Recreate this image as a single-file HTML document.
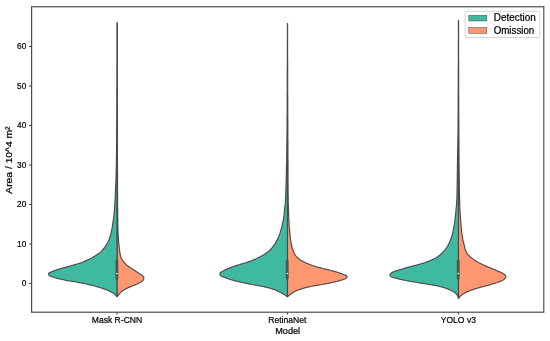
<!DOCTYPE html>
<html><head><meta charset="utf-8"><title>Violin plot</title>
<style>
html,body{margin:0;padding:0;background:#fff;}
svg{display:block;}
text{font-family:"Liberation Sans",Arial,sans-serif;fill:#000;stroke:#000;stroke-width:0.22px;}
.t{font-size:9.3px;}
.l{font-size:9px;}
.g{font-size:10.1px;}
</style></head>
<body>
<svg width="550" height="341" viewBox="0 0 550 341">
<rect width="550" height="341" fill="#fff"/>
<path d="M117.2 296.6L117.0 296.6L116.7 296.2L116.3 295.8L116.0 295.4L115.6 295.0L115.1 294.6L114.7 294.2L114.1 293.8L113.6 293.4L112.9 293.0L112.3 292.6L111.5 292.2L110.8 291.8L110.0 291.4L109.2 291.0L108.4 290.6L107.5 290.2L106.5 289.8L105.5 289.4L104.4 289.0L103.2 288.6L101.9 288.2L100.6 287.8L99.3 287.4L98.0 287.0L96.7 286.6L95.3 286.2L93.7 285.8L92.1 285.4L90.5 285.0L88.8 284.6L87.0 284.2L85.2 283.8L83.2 283.4L81.2 283.0L79.3 282.6L77.3 282.2L75.1 281.8L72.6 281.4L69.9 281.0L67.5 280.6L65.3 280.2L63.4 279.8L61.6 279.4L60.0 279.0L58.3 278.6L56.8 278.2L55.2 277.8L53.8 277.4L52.6 277.0L51.5 276.6L50.5 276.2L49.8 275.8L49.3 275.4L48.9 275.0L48.7 274.6L48.6 274.2L48.6 273.8L48.6 273.4L49.1 273.0L49.8 272.6L50.6 272.2L51.5 271.8L52.5 271.4L53.5 271.0L54.5 270.6L55.6 270.2L56.8 269.8L58.0 269.4L59.3 269.0L60.7 268.6L62.2 268.2L63.6 267.8L65.1 267.4L66.5 267.0L68.0 266.6L69.4 266.2L70.9 265.8L72.3 265.4L73.8 265.0L75.2 264.6L76.6 264.2L78.0 263.8L79.3 263.4L80.5 263.0L81.5 262.6L82.5 262.2L83.4 261.8L84.2 261.4L85.1 261.0L86.0 260.6L86.9 260.2L87.9 259.8L88.8 259.4L89.7 259.0L90.5 258.6L91.3 258.2L92.0 257.8L92.7 257.4L93.3 257.0L93.9 256.6L94.6 256.2L95.2 255.8L95.8 255.4L96.4 255.0L97.1 254.6L97.7 254.2L98.3 253.8L98.9 253.4L99.5 253.0L100.0 252.6L100.5 252.2L100.9 251.8L101.3 251.4L101.7 251.0L102.1 250.6L102.4 250.2L102.7 249.8L103.0 249.4L103.4 249.0L103.7 248.6L104.0 248.2L104.3 247.8L104.6 247.4L104.9 247.0L105.2 246.6L105.5 246.2L105.8 245.8L106.1 245.4L106.3 245.0L106.5 244.6L106.8 244.2L107.0 243.8L107.2 243.4L107.5 243.0L107.7 242.6L107.9 242.2L108.1 241.8L108.3 241.4L108.4 241.0L108.6 240.6L108.8 240.2L108.9 239.8L109.1 239.4L109.2 239.0L109.4 238.6L109.5 238.2L109.7 237.8L109.8 237.4L109.9 237.0L110.1 236.6L110.2 236.2L110.3 235.8L110.4 235.4L110.5 235.0L110.7 234.6L110.8 234.2L110.9 233.8L111.0 233.4L111.1 233.0L111.2 232.6L111.3 232.2L111.3 231.8L111.4 231.4L111.5 231.0L111.6 230.6L111.7 230.2L111.7 230.0L112.1 228.0L112.4 226.0L112.7 224.0L113.0 222.0L113.3 220.0L113.6 218.0L113.9 216.0L114.1 214.0L114.2 212.0L114.4 210.0L114.6 208.0L114.7 206.0L114.8 204.0L114.9 202.0L115.1 200.0L115.2 198.0L115.3 196.0L115.3 194.0L115.4 192.0L115.5 190.0L115.6 188.0L115.7 186.0L115.8 184.0L115.9 182.0L116.0 180.0L116.0 178.0L116.1 176.0L116.1 174.0L116.2 172.0L116.2 170.0L116.3 168.0L116.3 166.0L116.3 164.0L116.4 162.0L116.4 160.0L116.4 158.0L116.5 156.0L116.5 154.0L116.5 152.0L116.6 150.0L116.6 148.0L116.6 146.0L116.6 144.0L116.6 142.0L116.6 140.0L116.7 138.0L116.7 136.0L116.7 134.0L116.7 132.0L116.7 130.0L116.7 128.0L116.8 126.0L116.8 124.0L116.8 122.0L116.8 120.0L116.8 118.0L116.8 116.0L116.8 114.0L116.8 112.0L116.9 110.0L116.9 108.0L116.9 106.0L116.9 104.0L116.9 102.0L116.9 100.0L116.9 98.0L116.9 96.0L116.9 94.0L116.9 92.0L116.9 90.0L117.0 88.0L117.0 86.0L117.0 84.0L117.0 82.0L117.0 80.0L117.0 78.0L117.0 76.0L117.0 74.0L117.0 72.0L117.0 70.0L117.0 68.0L117.0 66.0L117.1 64.0L117.1 62.0L117.1 60.0L117.1 58.0L117.1 56.0L117.1 54.0L117.1 52.0L117.1 50.0L117.1 48.0L117.1 46.0L117.1 44.0L117.1 42.0L117.1 40.0L117.1 38.0L117.1 36.0L117.1 34.0L117.1 32.0L117.1 30.0L117.1 28.0L117.1 26.0L117.1 24.0L117.2 22.9L117.2 22.9Z" fill="#3fb9a0" stroke="#4a4a4a" stroke-width="1.15" stroke-linejoin="round"/>
<path d="M117.2 296.6L117.4 296.6L117.6 296.2L117.9 295.8L118.2 295.4L118.5 295.0L118.8 294.6L119.2 294.2L119.5 293.8L119.8 293.4L120.2 293.0L120.5 292.6L120.9 292.2L121.3 291.8L121.8 291.4L122.3 291.0L122.9 290.6L123.5 290.2L124.2 289.8L124.9 289.4L125.6 289.0L126.4 288.6L127.2 288.2L128.0 287.8L128.9 287.4L129.8 287.0L130.8 286.6L131.8 286.2L132.8 285.8L133.8 285.4L134.7 285.0L135.7 284.6L136.7 284.2L137.6 283.8L138.5 283.4L139.2 283.0L140.0 282.6L140.7 282.2L141.4 281.8L142.0 281.4L142.5 281.0L142.8 280.6L143.2 280.2L143.4 279.8L143.6 279.4L143.7 279.0L143.8 278.6L143.8 278.2L143.8 277.8L143.8 277.4L143.6 277.0L143.3 276.6L142.9 276.2L142.5 275.8L142.0 275.4L141.5 275.0L141.0 274.6L140.3 274.2L139.7 273.8L139.1 273.4L138.5 273.0L137.9 272.6L137.3 272.2L136.7 271.8L136.1 271.4L135.5 271.0L134.9 270.6L134.3 270.2L133.7 269.8L133.0 269.4L132.4 269.0L131.7 268.6L131.1 268.2L130.4 267.8L129.8 267.4L129.3 267.0L128.7 266.6L128.2 266.2L127.7 265.8L127.2 265.4L126.7 265.0L126.3 264.6L125.9 264.2L125.5 263.8L125.1 263.4L124.7 263.0L124.3 262.6L123.9 262.2L123.6 261.8L123.3 261.4L123.0 261.0L122.7 260.6L122.4 260.2L122.2 259.8L122.0 259.4L121.8 259.0L121.6 258.6L121.4 258.2L121.2 257.8L121.0 257.4L120.9 257.0L120.8 256.6L120.6 256.2L120.5 255.8L120.4 255.4L120.3 255.0L120.2 254.6L120.2 254.2L120.1 253.8L120.0 253.4L119.9 253.0L119.9 252.6L119.8 252.2L119.8 251.8L119.7 251.4L119.6 251.0L119.6 250.6L119.5 250.2L119.5 249.8L119.5 249.4L119.4 249.0L119.4 248.6L119.3 248.2L119.3 247.8L119.3 247.4L119.2 247.0L119.2 246.6L119.1 246.2L119.1 245.8L119.0 245.4L119.0 245.0L119.0 244.6L118.9 244.2L118.9 243.8L118.8 243.4L118.8 243.0L118.7 242.6L118.7 242.2L118.6 241.8L118.6 241.4L118.6 241.0L118.5 240.6L118.5 240.2L118.4 239.8L118.4 239.4L118.4 239.0L118.3 238.6L118.3 238.2L118.3 237.8L118.3 237.4L118.2 237.0L118.2 236.6L118.2 236.2L118.2 235.8L118.2 235.4L118.2 235.0L118.1 234.6L118.1 234.2L118.1 233.8L118.1 233.4L118.1 233.0L118.1 232.6L118.0 232.2L118.0 231.8L118.0 231.4L118.0 231.0L118.0 230.6L118.0 230.2L118.0 230.0L117.9 228.0L117.9 226.0L117.8 224.0L117.8 222.0L117.8 220.0L117.8 218.0L117.7 216.0L117.7 214.0L117.7 212.0L117.7 210.0L117.7 208.0L117.6 206.0L117.6 204.0L117.6 202.0L117.6 200.0L117.6 198.0L117.6 196.0L117.6 194.0L117.6 192.0L117.5 190.0L117.5 188.0L117.5 186.0L117.5 184.0L117.5 182.0L117.5 180.0L117.5 178.0L117.5 176.0L117.5 174.0L117.5 172.0L117.5 170.0L117.5 168.0L117.5 166.0L117.4 164.0L117.4 162.0L117.4 160.0L117.4 158.0L117.4 156.0L117.4 154.0L117.4 152.0L117.4 150.0L117.4 148.0L117.4 146.0L117.4 144.0L117.4 142.0L117.4 140.0L117.4 138.0L117.4 136.0L117.4 134.0L117.4 132.0L117.4 130.0L117.4 128.0L117.4 126.0L117.4 124.0L117.3 122.0L117.3 120.0L117.3 118.0L117.3 116.0L117.3 114.0L117.3 112.0L117.3 110.0L117.3 108.0L117.3 106.0L117.3 104.0L117.3 102.0L117.3 100.0L117.3 98.0L117.3 96.0L117.3 94.0L117.3 92.0L117.3 90.0L117.3 88.0L117.3 86.0L117.3 84.0L117.3 82.0L117.3 80.0L117.3 78.0L117.2 76.0L117.2 74.0L117.2 72.0L117.2 70.0L117.2 68.0L117.2 66.0L117.2 64.0L117.2 62.0L117.2 60.0L117.2 58.0L117.2 56.0L117.2 54.0L117.2 52.0L117.2 50.0L117.2 48.0L117.2 46.0L117.2 44.0L117.2 42.0L117.2 40.0L117.2 38.0L117.2 36.0L117.2 34.0L117.2 32.0L117.2 30.0L117.2 28.0L117.2 26.0L117.2 24.0L117.2 22.9L117.2 22.9Z" fill="#ff9770" stroke="#4a4a4a" stroke-width="1.15" stroke-linejoin="round"/>
<path d="M287.5 296.7L287.3 296.7L286.8 296.3L286.2 295.9L285.7 295.5L285.1 295.1L284.4 294.7L283.8 294.3L283.1 293.9L282.4 293.5L281.7 293.1L281.0 292.7L280.2 292.3L279.5 291.9L278.7 291.5L277.9 291.1L277.0 290.7L276.1 290.3L275.1 289.9L274.1 289.5L272.9 289.1L271.6 288.7L270.2 288.3L268.6 287.9L267.0 287.5L265.4 287.1L263.6 286.7L261.8 286.3L259.8 285.9L257.7 285.5L255.5 285.1L253.1 284.7L251.0 284.3L249.0 283.9L247.0 283.5L245.1 283.1L243.3 282.7L241.3 282.3L239.5 281.9L237.7 281.5L236.1 281.1L234.6 280.7L233.1 280.3L231.8 279.9L230.4 279.5L229.2 279.1L228.0 278.7L227.0 278.3L225.9 277.9L224.8 277.5L223.6 277.1L222.4 276.7L221.6 276.3L221.0 275.9L220.5 275.5L220.2 275.1L220.1 274.7L220.0 274.3L220.0 273.9L220.0 273.5L220.1 273.1L220.4 272.7L220.9 272.3L221.4 271.9L222.0 271.5L222.8 271.1L223.6 270.7L224.3 270.3L225.1 269.9L226.0 269.5L226.9 269.1L227.8 268.7L228.8 268.3L229.8 267.9L230.8 267.5L231.9 267.1L233.0 266.7L234.2 266.3L235.4 265.9L236.6 265.5L237.8 265.1L239.2 264.7L240.5 264.3L241.9 263.9L243.2 263.5L244.5 263.1L245.8 262.7L247.0 262.3L248.2 261.9L249.3 261.5L250.5 261.1L251.5 260.7L252.5 260.3L253.4 259.9L254.3 259.5L255.2 259.1L256.1 258.7L256.9 258.3L257.7 257.9L258.5 257.5L259.3 257.1L260.1 256.7L260.8 256.3L261.6 255.9L262.3 255.5L263.1 255.1L263.8 254.7L264.4 254.3L265.1 253.9L265.7 253.5L266.3 253.1L266.8 252.7L267.3 252.3L267.8 251.9L268.3 251.5L268.8 251.1L269.2 250.7L269.6 250.3L270.0 249.9L270.4 249.5L270.8 249.1L271.2 248.7L271.5 248.3L271.9 247.9L272.2 247.5L272.5 247.1L272.8 246.7L273.2 246.3L273.5 245.9L273.7 245.5L274.0 245.1L274.3 244.7L274.6 244.3L274.8 243.9L275.1 243.5L275.3 243.1L275.6 242.7L275.8 242.3L276.0 241.9L276.3 241.5L276.5 241.1L276.7 240.7L276.9 240.3L277.1 239.9L277.3 239.5L277.5 239.1L277.7 238.7L277.9 238.3L278.1 237.9L278.2 237.5L278.4 237.1L278.6 236.7L278.7 236.3L278.9 235.9L279.1 235.5L279.2 235.1L279.4 234.7L279.5 234.3L279.6 233.9L279.8 233.5L279.9 233.1L280.1 232.7L280.2 232.3L280.3 231.9L280.4 231.5L280.6 231.1L280.7 230.7L280.8 230.3L280.9 230.0L281.5 228.0L282.0 226.0L282.4 224.0L282.9 222.0L283.3 220.0L283.6 218.0L283.9 216.0L284.2 214.0L284.3 212.0L284.5 210.0L284.7 208.0L284.9 206.0L285.2 204.0L285.4 202.0L285.5 200.0L285.6 198.0L285.7 196.0L285.8 194.0L285.8 192.0L285.9 190.0L286.0 188.0L286.0 186.0L286.1 184.0L286.1 182.0L286.2 180.0L286.2 178.0L286.3 176.0L286.3 174.0L286.4 172.0L286.4 170.0L286.4 168.0L286.5 166.0L286.5 164.0L286.6 162.0L286.6 160.0L286.6 158.0L286.7 156.0L286.7 154.0L286.7 152.0L286.8 150.0L286.8 148.0L286.8 146.0L286.9 144.0L286.9 142.0L286.9 140.0L287.0 138.0L287.0 136.0L287.0 134.0L287.0 132.0L287.1 130.0L287.1 128.0L287.1 126.0L287.1 124.0L287.1 122.0L287.1 120.0L287.1 118.0L287.1 116.0L287.2 114.0L287.2 112.0L287.2 110.0L287.2 108.0L287.2 106.0L287.2 104.0L287.2 102.0L287.2 100.0L287.2 98.0L287.2 96.0L287.2 94.0L287.3 92.0L287.3 90.0L287.3 88.0L287.3 86.0L287.3 84.0L287.3 82.0L287.3 80.0L287.3 78.0L287.3 76.0L287.3 74.0L287.3 72.0L287.3 70.0L287.3 68.0L287.4 66.0L287.4 64.0L287.4 62.0L287.4 60.0L287.4 58.0L287.4 56.0L287.4 54.0L287.4 52.0L287.4 50.0L287.4 48.0L287.4 46.0L287.4 44.0L287.4 42.0L287.5 40.0L287.5 38.0L287.5 36.0L287.5 34.0L287.5 32.0L287.5 30.0L287.5 28.0L287.5 26.0L287.5 24.0L287.5 23.5L287.5 23.5Z" fill="#3fb9a0" stroke="#4a4a4a" stroke-width="1.15" stroke-linejoin="round"/>
<path d="M287.5 296.7L287.7 296.7L288.1 296.3L288.5 295.9L288.9 295.5L289.4 295.1L289.9 294.7L290.4 294.3L290.9 293.9L291.5 293.5L292.1 293.1L292.7 292.7L293.4 292.3L294.1 291.9L294.9 291.5L295.7 291.1L296.6 290.7L297.5 290.3L298.6 289.9L299.6 289.5L300.8 289.1L302.0 288.7L303.3 288.3L304.8 287.9L306.3 287.5L308.0 287.1L309.7 286.7L311.6 286.3L313.6 285.9L315.8 285.5L318.1 285.1L320.8 284.7L323.3 284.3L325.5 283.9L327.5 283.5L329.4 283.1L331.3 282.7L333.1 282.3L335.0 281.9L336.7 281.5L338.2 281.1L339.6 280.7L341.0 280.3L342.2 279.9L343.4 279.5L344.4 279.1L345.2 278.7L345.8 278.3L346.4 277.9L346.8 277.5L346.9 277.1L347.1 276.7L347.1 276.3L346.7 275.9L346.2 275.5L345.2 275.1L344.1 274.7L343.1 274.3L342.0 273.9L340.9 273.5L339.8 273.1L338.6 272.7L337.3 272.3L336.0 271.9L334.6 271.5L333.1 271.1L331.7 270.7L330.2 270.3L328.6 269.9L327.1 269.5L325.5 269.1L323.9 268.7L322.3 268.3L320.7 267.9L319.1 267.5L317.6 267.1L316.3 266.7L315.0 266.3L313.7 265.9L312.5 265.5L311.4 265.1L310.3 264.7L309.3 264.3L308.3 263.9L307.4 263.5L306.4 263.1L305.5 262.7L304.7 262.3L303.8 261.9L303.1 261.5L302.3 261.1L301.7 260.7L301.0 260.3L300.4 259.9L299.8 259.5L299.3 259.1L298.8 258.7L298.3 258.3L297.8 257.9L297.4 257.5L297.0 257.1L296.6 256.7L296.2 256.3L295.9 255.9L295.5 255.5L295.2 255.1L294.9 254.7L294.7 254.3L294.4 253.9L294.2 253.5L294.1 253.1L293.9 252.7L293.7 252.3L293.6 251.9L293.4 251.5L293.3 251.1L293.2 250.7L293.0 250.3L292.9 249.9L292.8 249.5L292.6 249.1L292.5 248.7L292.4 248.3L292.3 247.9L292.1 247.5L292.0 247.1L291.9 246.7L291.8 246.3L291.7 245.9L291.7 245.5L291.6 245.1L291.5 244.7L291.4 244.3L291.3 243.9L291.2 243.5L291.1 243.1L291.1 242.7L291.0 242.3L290.9 241.9L290.8 241.5L290.8 241.1L290.7 240.7L290.6 240.3L290.6 239.9L290.5 239.5L290.4 239.1L290.4 238.7L290.3 238.3L290.3 237.9L290.2 237.5L290.2 237.1L290.2 236.7L290.1 236.3L290.1 235.9L290.0 235.5L290.0 235.1L290.0 234.7L289.9 234.3L289.9 233.9L289.8 233.5L289.8 233.1L289.8 232.7L289.7 232.3L289.7 231.9L289.7 231.5L289.6 231.1L289.6 230.7L289.6 230.3L289.5 230.0L289.4 228.0L289.2 226.0L289.1 224.0L289.0 222.0L288.9 220.0L288.8 218.0L288.7 216.0L288.6 214.0L288.6 212.0L288.5 210.0L288.4 208.0L288.4 206.0L288.3 204.0L288.2 202.0L288.2 200.0L288.2 198.0L288.2 196.0L288.1 194.0L288.1 192.0L288.1 190.0L288.1 188.0L288.1 186.0L288.1 184.0L288.0 182.0L288.0 180.0L288.0 178.0L288.0 176.0L288.0 174.0L288.0 172.0L288.0 170.0L288.0 168.0L288.0 166.0L288.0 164.0L288.0 162.0L287.9 160.0L287.9 158.0L287.9 156.0L287.9 154.0L287.9 152.0L287.9 150.0L287.9 148.0L287.9 146.0L287.9 144.0L287.9 142.0L287.8 140.0L287.8 138.0L287.8 136.0L287.8 134.0L287.8 132.0L287.8 130.0L287.8 128.0L287.8 126.0L287.8 124.0L287.8 122.0L287.8 120.0L287.7 118.0L287.7 116.0L287.7 114.0L287.7 112.0L287.7 110.0L287.7 108.0L287.7 106.0L287.7 104.0L287.7 102.0L287.7 100.0L287.7 98.0L287.6 96.0L287.6 94.0L287.6 92.0L287.6 90.0L287.6 88.0L287.6 86.0L287.6 84.0L287.6 82.0L287.6 80.0L287.6 78.0L287.6 76.0L287.6 74.0L287.6 72.0L287.6 70.0L287.6 68.0L287.6 66.0L287.6 64.0L287.6 62.0L287.6 60.0L287.5 58.0L287.5 56.0L287.5 54.0L287.5 52.0L287.5 50.0L287.5 48.0L287.5 46.0L287.5 44.0L287.5 42.0L287.5 40.0L287.5 38.0L287.5 36.0L287.5 34.0L287.5 32.0L287.5 30.0L287.5 28.0L287.5 26.0L287.5 24.0L287.5 23.5L287.5 23.5Z" fill="#ff9770" stroke="#4a4a4a" stroke-width="1.15" stroke-linejoin="round"/>
<path d="M458.5 298.3L458.3 298.3L458.3 297.9L458.2 297.5L458.1 297.1L457.9 296.7L457.8 296.3L457.5 295.9L457.3 295.5L457.1 295.1L456.8 294.7L456.5 294.3L456.2 293.9L455.9 293.5L455.4 293.1L454.9 292.7L454.3 292.3L453.7 291.9L453.0 291.5L452.3 291.1L451.6 290.7L450.8 290.3L450.0 289.9L449.1 289.5L448.1 289.1L447.1 288.7L446.0 288.3L444.8 287.9L443.6 287.5L442.2 287.1L440.6 286.7L439.0 286.3L437.2 285.9L435.1 285.5L432.8 285.1L430.4 284.7L428.0 284.3L425.6 283.9L423.1 283.5L420.7 283.1L418.2 282.7L415.8 282.3L413.5 281.9L411.2 281.5L409.0 281.1L406.9 280.7L404.8 280.3L402.8 279.9L401.0 279.5L399.3 279.1L397.7 278.7L396.2 278.3L394.6 277.9L393.2 277.5L392.0 277.1L391.2 276.7L390.5 276.3L390.2 275.9L390.1 275.5L390.0 275.1L390.0 274.7L390.1 274.3L390.4 273.9L390.8 273.5L391.2 273.1L391.8 272.7L392.4 272.3L393.2 271.9L394.1 271.5L395.2 271.1L396.5 270.7L397.9 270.3L399.2 269.9L400.5 269.5L401.8 269.1L403.1 268.7L404.5 268.3L405.8 267.9L407.2 267.5L408.6 267.1L410.1 266.7L411.7 266.3L413.3 265.9L414.8 265.5L416.3 265.1L417.9 264.7L419.4 264.3L420.8 263.9L422.2 263.5L423.4 263.1L424.6 262.7L425.7 262.3L426.8 261.9L427.8 261.5L428.8 261.1L429.8 260.7L430.7 260.3L431.7 259.9L432.6 259.5L433.5 259.1L434.3 258.7L435.1 258.3L435.9 257.9L436.6 257.5L437.2 257.1L437.8 256.7L438.3 256.3L438.8 255.9L439.3 255.5L439.8 255.1L440.2 254.7L440.7 254.3L441.1 253.9L441.5 253.5L441.9 253.1L442.3 252.7L442.7 252.3L443.1 251.9L443.5 251.5L443.9 251.1L444.3 250.7L444.6 250.3L445.0 249.9L445.3 249.5L445.6 249.1L445.8 248.7L446.1 248.3L446.4 247.9L446.7 247.5L446.9 247.1L447.2 246.7L447.4 246.3L447.6 245.9L447.9 245.5L448.1 245.1L448.3 244.7L448.5 244.3L448.7 243.9L448.9 243.5L449.1 243.1L449.3 242.7L449.5 242.3L449.6 241.9L449.8 241.5L450.0 241.1L450.1 240.7L450.3 240.3L450.4 239.9L450.6 239.5L450.8 239.1L450.9 238.7L451.0 238.3L451.2 237.9L451.3 237.5L451.5 237.1L451.6 236.7L451.7 236.3L451.9 235.9L452.0 235.5L452.1 235.1L452.2 234.7L452.3 234.3L452.4 233.9L452.5 233.5L452.6 233.1L452.7 232.7L452.8 232.3L452.9 231.9L453.0 231.5L453.1 231.1L453.2 230.7L453.3 230.3L453.3 230.0L453.7 228.0L454.1 226.0L454.4 224.0L454.7 222.0L454.9 220.0L455.2 218.0L455.4 216.0L455.6 214.0L455.8 212.0L456.0 210.0L456.2 208.0L456.4 206.0L456.6 204.0L456.7 202.0L456.8 200.0L456.9 198.0L456.9 196.0L457.0 194.0L457.0 192.0L457.1 190.0L457.1 188.0L457.1 186.0L457.2 184.0L457.2 182.0L457.2 180.0L457.3 178.0L457.3 176.0L457.3 174.0L457.3 172.0L457.4 170.0L457.4 168.0L457.4 166.0L457.4 164.0L457.5 162.0L457.5 160.0L457.5 158.0L457.6 156.0L457.6 154.0L457.6 152.0L457.7 150.0L457.7 148.0L457.8 146.0L457.8 144.0L457.9 142.0L457.9 140.0L457.9 138.0L458.0 136.0L458.0 134.0L458.0 132.0L458.1 130.0L458.1 128.0L458.1 126.0L458.1 124.0L458.1 122.0L458.1 120.0L458.1 118.0L458.1 116.0L458.2 114.0L458.2 112.0L458.2 110.0L458.2 108.0L458.2 106.0L458.2 104.0L458.2 102.0L458.2 100.0L458.2 98.0L458.2 96.0L458.2 94.0L458.3 92.0L458.3 90.0L458.3 88.0L458.3 86.0L458.3 84.0L458.3 82.0L458.3 80.0L458.3 78.0L458.3 76.0L458.3 74.0L458.3 72.0L458.3 70.0L458.3 68.0L458.4 66.0L458.4 64.0L458.4 62.0L458.4 60.0L458.4 58.0L458.4 56.0L458.4 54.0L458.4 52.0L458.4 50.0L458.4 48.0L458.4 46.0L458.4 44.0L458.4 42.0L458.4 40.0L458.5 38.0L458.5 36.0L458.5 34.0L458.5 32.0L458.5 30.0L458.5 28.0L458.5 26.0L458.5 24.0L458.5 22.0L458.5 20.3L458.5 20.3Z" fill="#3fb9a0" stroke="#4a4a4a" stroke-width="1.15" stroke-linejoin="round"/>
<path d="M458.5 298.3L458.7 298.3L458.9 297.9L459.2 297.5L459.6 297.1L459.9 296.7L460.3 296.3L460.7 295.9L461.1 295.5L461.6 295.1L462.1 294.7L462.7 294.3L463.2 293.9L463.9 293.5L464.6 293.1L465.3 292.7L466.0 292.3L466.9 291.9L467.8 291.5L468.8 291.1L469.8 290.7L470.9 290.3L472.0 289.9L473.1 289.5L474.3 289.1L475.6 288.7L477.0 288.3L478.4 287.9L479.8 287.5L481.2 287.1L482.8 286.7L484.3 286.3L485.9 285.9L487.4 285.5L488.8 285.1L490.2 284.7L491.6 284.3L492.9 283.9L494.2 283.5L495.4 283.1L496.7 282.7L497.9 282.3L499.1 281.9L500.0 281.5L500.9 281.1L501.8 280.7L502.6 280.3L503.3 279.9L503.8 279.5L504.4 279.1L504.8 278.7L505.2 278.3L505.4 277.9L505.6 277.5L505.8 277.1L505.9 276.7L505.9 276.3L505.8 275.9L505.5 275.5L505.2 275.1L504.8 274.7L504.3 274.3L503.7 273.9L503.0 273.5L502.3 273.1L501.6 272.7L500.7 272.3L499.9 271.9L499.0 271.5L498.0 271.1L497.1 270.7L496.1 270.3L495.2 269.9L494.2 269.5L493.2 269.1L492.2 268.7L491.2 268.3L490.2 267.9L489.2 267.5L488.2 267.1L487.3 266.7L486.4 266.3L485.5 265.9L484.6 265.5L483.8 265.1L482.9 264.7L482.1 264.3L481.3 263.9L480.5 263.5L479.7 263.1L478.9 262.7L478.2 262.3L477.4 261.9L476.7 261.5L476.1 261.1L475.4 260.7L474.8 260.3L474.2 259.9L473.6 259.5L473.1 259.1L472.5 258.7L472.0 258.3L471.5 257.9L471.0 257.5L470.6 257.1L470.1 256.7L469.7 256.3L469.2 255.9L468.8 255.5L468.4 255.1L468.0 254.7L467.7 254.3L467.4 253.9L467.1 253.5L466.8 253.1L466.6 252.7L466.4 252.3L466.2 251.9L466.0 251.5L465.8 251.1L465.7 250.7L465.5 250.3L465.4 249.9L465.2 249.5L465.1 249.1L465.0 248.7L464.9 248.3L464.9 247.9L464.8 247.5L464.7 247.1L464.6 246.7L464.5 246.3L464.4 245.9L464.3 245.5L464.2 245.1L464.1 244.7L464.0 244.3L463.9 243.9L463.8 243.5L463.7 243.1L463.6 242.7L463.5 242.3L463.4 241.9L463.3 241.5L463.2 241.1L463.1 240.7L463.0 240.3L462.9 239.9L462.8 239.5L462.8 239.1L462.7 238.7L462.6 238.3L462.6 237.9L462.5 237.5L462.4 237.1L462.4 236.7L462.3 236.3L462.2 235.9L462.2 235.5L462.1 235.1L462.1 234.7L462.0 234.3L462.0 233.9L461.9 233.5L461.8 233.1L461.8 232.7L461.7 232.3L461.7 231.9L461.7 231.5L461.6 231.1L461.6 230.7L461.5 230.3L461.5 230.0L461.3 228.0L461.1 226.0L460.9 224.0L460.8 222.0L460.6 220.0L460.5 218.0L460.4 216.0L460.2 214.0L460.1 212.0L460.0 210.0L459.9 208.0L459.8 206.0L459.7 204.0L459.7 202.0L459.6 200.0L459.6 198.0L459.5 196.0L459.5 194.0L459.4 192.0L459.4 190.0L459.4 188.0L459.3 186.0L459.3 184.0L459.3 182.0L459.3 180.0L459.2 178.0L459.2 176.0L459.2 174.0L459.1 172.0L459.1 170.0L459.1 168.0L459.1 166.0L459.0 164.0L459.0 162.0L459.0 160.0L459.0 158.0L459.0 156.0L459.0 154.0L458.9 152.0L458.9 150.0L458.9 148.0L458.9 146.0L458.9 144.0L458.9 142.0L458.9 140.0L458.8 138.0L458.8 136.0L458.8 134.0L458.8 132.0L458.8 130.0L458.8 128.0L458.8 126.0L458.8 124.0L458.8 122.0L458.7 120.0L458.7 118.0L458.7 116.0L458.7 114.0L458.7 112.0L458.7 110.0L458.7 108.0L458.7 106.0L458.7 104.0L458.7 102.0L458.7 100.0L458.7 98.0L458.6 96.0L458.6 94.0L458.6 92.0L458.6 90.0L458.6 88.0L458.6 86.0L458.6 84.0L458.6 82.0L458.6 80.0L458.6 78.0L458.6 76.0L458.6 74.0L458.6 72.0L458.6 70.0L458.6 68.0L458.6 66.0L458.6 64.0L458.6 62.0L458.6 60.0L458.5 58.0L458.5 56.0L458.5 54.0L458.5 52.0L458.5 50.0L458.5 48.0L458.5 46.0L458.5 44.0L458.5 42.0L458.5 40.0L458.5 38.0L458.5 36.0L458.5 34.0L458.5 32.0L458.5 30.0L458.5 28.0L458.5 26.0L458.5 24.0L458.5 22.0L458.5 20.3L458.5 20.3Z" fill="#ff9770" stroke="#4a4a4a" stroke-width="1.15" stroke-linejoin="round"/>
<line x1="116.9" y1="260.9" x2="116.9" y2="278.8" stroke="#525252" stroke-width="2.8" stroke-linecap="round"/><circle cx="116.9" cy="273.6" r="0.75" fill="#fff"/><line x1="287.2" y1="261.0" x2="287.2" y2="278.3" stroke="#525252" stroke-width="2.8" stroke-linecap="round"/><circle cx="287.2" cy="273.4" r="0.75" fill="#fff"/><line x1="458.2" y1="261.2" x2="458.2" y2="278.6" stroke="#525252" stroke-width="2.8" stroke-linecap="round"/><circle cx="458.2" cy="273.4" r="0.75" fill="#fff"/>
<rect x="31.6" y="6.75" width="512.2" height="305.45" fill="none" stroke="#4d4d4d" stroke-width="1.2"/>
<line x1="29.1" y1="283.5" x2="31.6" y2="283.5" stroke="#3a3a3a" stroke-width="1.0"/><text transform="translate(26.3,286.4) scale(0.89,1)" text-anchor="end" class="t">0</text><line x1="29.1" y1="244.0" x2="31.6" y2="244.0" stroke="#3a3a3a" stroke-width="1.0"/><text transform="translate(26.3,246.9) scale(0.89,1)" text-anchor="end" class="t">10</text><line x1="29.1" y1="204.5" x2="31.6" y2="204.5" stroke="#3a3a3a" stroke-width="1.0"/><text transform="translate(26.3,207.4) scale(0.89,1)" text-anchor="end" class="t">20</text><line x1="29.1" y1="165.0" x2="31.6" y2="165.0" stroke="#3a3a3a" stroke-width="1.0"/><text transform="translate(26.3,167.9) scale(0.89,1)" text-anchor="end" class="t">30</text><line x1="29.1" y1="125.5" x2="31.6" y2="125.5" stroke="#3a3a3a" stroke-width="1.0"/><text transform="translate(26.3,128.4) scale(0.89,1)" text-anchor="end" class="t">40</text><line x1="29.1" y1="86.0" x2="31.6" y2="86.0" stroke="#3a3a3a" stroke-width="1.0"/><text transform="translate(26.3,88.9) scale(0.89,1)" text-anchor="end" class="t">50</text><line x1="29.1" y1="46.5" x2="31.6" y2="46.5" stroke="#3a3a3a" stroke-width="1.0"/><text transform="translate(26.3,49.4) scale(0.89,1)" text-anchor="end" class="t">60</text>
<line x1="117.0" y1="312.2" x2="117.0" y2="314.7" stroke="#3a3a3a" stroke-width="1.0"/><text transform="translate(117.0,323.0) scale(0.895,1)" text-anchor="middle" class="t" style="font-size:9.6px">Mask R-CNN</text><line x1="287.3" y1="312.2" x2="287.3" y2="314.7" stroke="#3a3a3a" stroke-width="1.0"/><text transform="translate(287.3,323.0) scale(0.895,1)" text-anchor="middle" class="t" style="font-size:9.6px">RetinaNet</text><line x1="458.3" y1="312.2" x2="458.3" y2="314.7" stroke="#3a3a3a" stroke-width="1.0"/><text transform="translate(458.3,323.0) scale(0.895,1)" text-anchor="middle" class="t" style="font-size:9.6px">YOLO v3</text>
<text transform="translate(287.7,334) scale(0.975,1)" text-anchor="middle" class="l" style="font-size:9.4px">Model</text>
<text transform="translate(12.0,193.7) rotate(-90)" class="l" textLength="67.2" lengthAdjust="spacingAndGlyphs">Area / 10^4 m²</text>
<rect x="465.2" y="11.3" width="74.6" height="26.2" rx="1.6" fill="#fff" fill-opacity="0.8" stroke="#d0d0d0" stroke-width="0.9"/>
<rect x="468.8" y="15.3" width="18" height="5.7" fill="#3fb9a0" stroke="#4a4a4a" stroke-width="0.5"/>
<rect x="468.8" y="27.5" width="18" height="5.9" fill="#ff9770" stroke="#4a4a4a" stroke-width="0.5"/>
<text transform="translate(493.7,20.8) scale(0.985,1)" class="g">Detection</text>
<text transform="translate(493.7,33.9) scale(0.965,1)" class="g">Omission</text>
</svg>
</body></html>
